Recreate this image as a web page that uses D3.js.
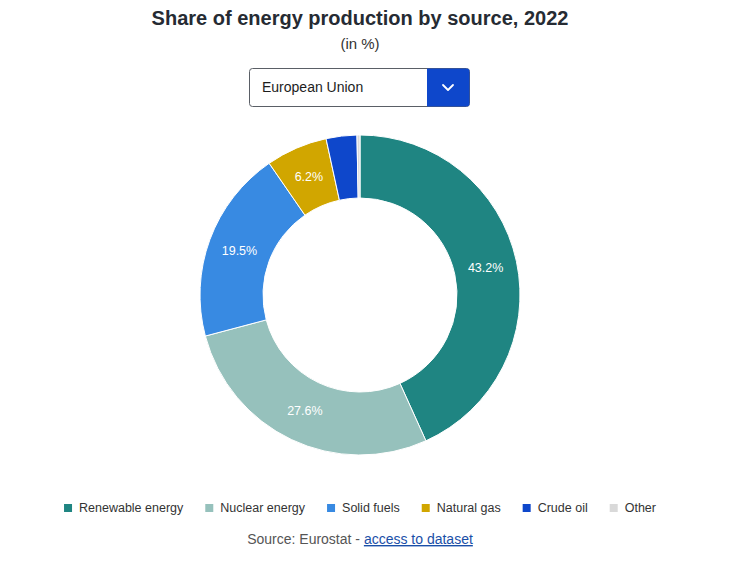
<!DOCTYPE html>
<html>
<head>
<meta charset="utf-8">
<script src="https://cdn.jsdelivr.net/npm/d3@7"></script>
<style>
    body { margin: 0; background: #fff; }
    svg { display: block; font-family: "Liberation Sans", Arial, sans-serif; }
</style>
</head>
<body>
<div id="chart"></div>
<script>
// Data
const categories = ["Renewable energy", "Nuclear energy", "Solid fuels", "Natural gas", "Crude oil", "Other"];
const shares = [43.2, 27.6, 19.5, 6.2, 3.1, 0.3];
const colors = ["#1f8582", "#96c1bc", "#388ae2", "#d1a600", "#0e47cb", "#d9d9d9"];
const countryOptions = ["European Union"];

const width = 729, height = 577;
const cx = 360, cy = 295;
const outerR = 160, innerR = 97;

const svg = d3.select("#chart")
    .append("svg")
    .attr("width", width)
    .attr("height", height);

// Title
svg.append("text")
    .attr("x", cx)
    .attr("y", 25)
    .attr("text-anchor", "middle")
    .style("font-size", "20px")
    .style("font-weight", "bold")
    .style("fill", "#262b33")
    .text("Share of energy production by source, 2022");

svg.append("text")
    .attr("x", cx)
    .attr("y", 49)
    .attr("text-anchor", "middle")
    .style("font-size", "15px")
    .style("fill", "#333")
    .text("(in %)");

// Dropdown box
const dd = svg.append("g").attr("transform", "translate(249,68)");
dd.append("rect")
    .attr("x", 0.5).attr("y", 0.5)
    .attr("width", 220).attr("height", 38)
    .attr("rx", 3)
    .attr("fill", "#fff")
    .attr("stroke", "#5a5f66");
dd.append("path")
    .attr("d", "M178,0.5 H217.5 Q220.5,0.5 220.5,3.5 V35.5 Q220.5,38.5 217.5,38.5 H178 Z")
    .attr("fill", "#0e47cb");
dd.append("path")
    .attr("d", "M194,17 l5,5 l5,-5")
    .attr("fill", "none")
    .attr("stroke", "#fff")
    .attr("stroke-width", 1.8)
    .attr("stroke-linecap", "round")
    .attr("stroke-linejoin", "round");
dd.append("text")
    .attr("x", 13)
    .attr("y", 24)
    .style("font-size", "14px")
    .style("fill", "#1d1d1d")
    .text(countryOptions[0]);

// Donut
const data = categories.map((c, i) => ({ name: c, value: shares[i], color: colors[i] }));

const pie = d3.pie()
    .value(d => d.value)
    .sort(null);

const arc = d3.arc()
    .innerRadius(innerR)
    .outerRadius(outerR);

const g = svg.append("g")
    .attr("transform", `translate(${cx},${cy})`);

const arcs = pie(data);

g.selectAll("path.slice")
    .data(arcs)
    .enter().append("path")
    .attr("class", "slice")
    .attr("d", arc)
    .attr("fill", d => d.data.color)
    .attr("stroke", "#fff")
    .attr("stroke-width", 1);

// Labels for larger slices
g.selectAll("text.label")
    .data(arcs.filter(d => d.data.value >= 5))
    .enter().append("text")
    .attr("class", "label")
    .attr("transform", d => `translate(${arc.centroid(d)})`)
    .attr("text-anchor", "middle")
    .attr("dy", "0.35em")
    .style("font-size", "12.5px")
    .style("fill", "#fff")
    .text(d => d.data.value.toFixed(1) + "%");

// Legend
const legend = svg.append("g").attr("class", "legend");
const items = legend.selectAll("g")
    .data(data)
    .enter().append("g");

items.append("rect")
    .attr("width", 8)
    .attr("height", 8)
    .attr("y", -4)
    .attr("fill", d => d.color);

items.append("text")
    .attr("x", 15)
    .attr("dy", "0.35em")
    .style("font-size", "12.5px")
    .style("fill", "#333")
    .text(d => d.name);

// Lay out legend items horizontally with measured widths
let xPos = 0;
items.each(function () {
    const w = this.querySelector("text").getComputedTextLength() + 15;
    d3.select(this).attr("transform", `translate(${xPos},0)`);
    xPos += w + 22;
});
const legendWidth = xPos - 22;
legend.attr("transform", `translate(${cx - legendWidth / 2},508)`);

// Source
const src = svg.append("text")
    .attr("x", cx)
    .attr("y", 544)
    .attr("text-anchor", "middle")
    .style("font-size", "14px")
    .style("fill", "#555");
src.append("tspan").text("Source: Eurostat - ");
src.append("tspan")
    .style("fill", "#1a4fa8")
    .style("text-decoration", "underline")
    .text("access to dataset");
</script>
</body>
</html>
